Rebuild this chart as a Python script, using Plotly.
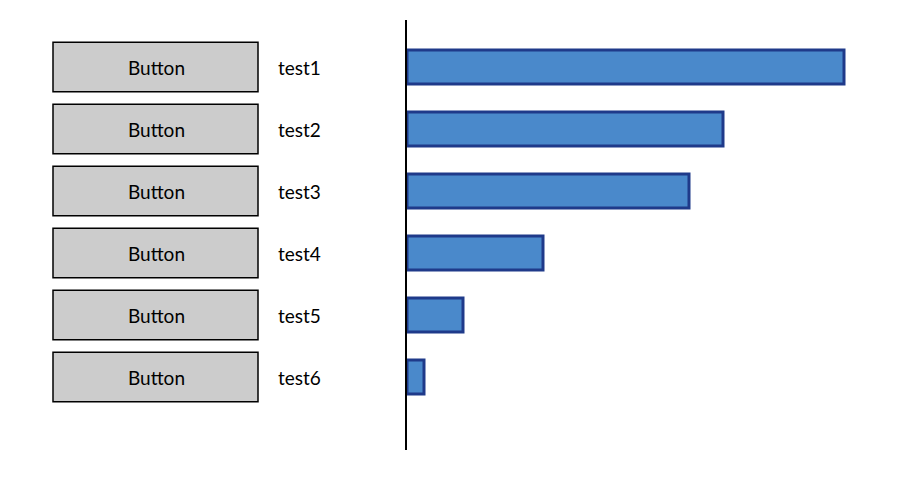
import plotly.graph_objects as go

categories = ["test1", "test2", "test3", "test4", "test5", "test6"]
values = [437, 316, 282, 136, 56, 17]
button_labels = ["Button"] * 6

W, H = 898, 480
DX = 7  # page offset compensation
ML, MR, MT, MB = 406 - DX, 28 + DX, 12, 38
pw = W - ML - MR
row = 62.0

fig = go.Figure(go.Bar(
    x=values, y=list(range(len(categories))), orientation="h", width=0.55,
    marker=dict(color="#4a89cb", line=dict(color="#1f3a8a", width=3)),
    hoverinfo="skip",
))


def px_to_paper(px):
    return (px - DX - ML) / pw


shapes, annotations = [], []
for i, (cat, lab) in enumerate(zip(categories, button_labels)):
    shapes.append(dict(type="rect", xref="paper", yref="y",
                       x0=px_to_paper(52), x1=px_to_paper(257), y0=i - 0.4, y1=i + 0.4,
                       fillcolor="#cccccc", line=dict(color="black", width=1.5)))
    annotations.append(dict(xref="paper", yref="y", x=px_to_paper(155), y=i, text=lab,
                            xanchor="center", showarrow=False, font=dict(size=19, color="black")))
    annotations.append(dict(xref="paper", yref="y", x=px_to_paper(275), y=i, text=cat,
                            xanchor="left", showarrow=False, font=dict(size=19, color="black")))

fig.update_layout(
    width=W, height=H, margin=dict(l=ML, r=MR, t=MT, b=MB),
    plot_bgcolor="white", paper_bgcolor="white", showlegend=False,
    font=dict(family="Comic Sans MS, Lato, sans-serif"),
    xaxis=dict(range=[0, pw], visible=False),
    yaxis=dict(range=[(H - MB - MT - 47) / row, -47 / row], showticklabels=False,
               showgrid=False, zeroline=False, showline=True, linecolor="black", linewidth=1.5),
    shapes=shapes, annotations=annotations,
)

fig.write_html("out.html")
